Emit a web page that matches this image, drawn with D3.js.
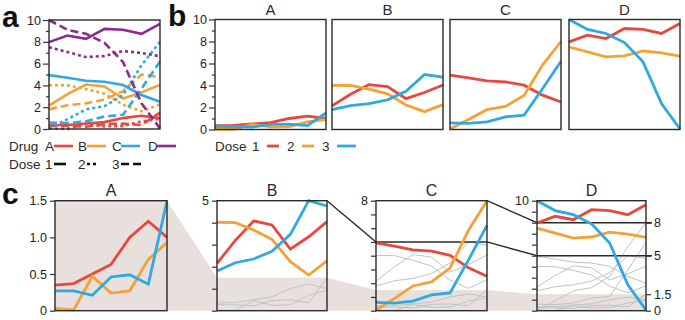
<!DOCTYPE html>
<html>
<head>
<meta charset="utf-8">
<script src="https://cdn.jsdelivr.net/npm/d3@7"></script>
<style>
  body { margin: 0; background: #fff; }
  svg { font-family: "Liberation Sans", Arial, sans-serif; }
  .tick text { font-size: 12.5px; fill: #222; }
  .tick line { stroke: #333; stroke-width: 1.2; }
</style>
</head>
<body>
<svg id="fig" width="685" height="320"></svg>
<script>
// data
var drugs = ['A', 'B', 'C', 'D'];
var doses = ['1', '2', '3'];
var timePoints = [0, 1, 2, 3, 4, 5, 6];

// one array per drug, one row per dose
var drugA = [
  [0.35, 0.37, 0.50, 0.63, 1.00, 1.22, 1.00],
  [0.03, 0.01, 0.47, 0.24, 0.27, 0.70, 0.93],
  [0.27, 0.27, 0.21, 0.46, 0.49, 0.36, 1.50]
];
var drugB = [
  [2.15, 3.20, 4.08, 3.90, 2.80, 3.36, 4.05],
  [4.02, 4.00, 3.67, 3.24, 2.23, 1.62, 2.26],
  [1.80, 2.18, 2.35, 2.70, 3.47, 5.00, 4.76]
];
var drugC = [
  [4.94, 4.70, 4.42, 4.33, 4.03, 3.12, 2.50],
  [0.05, 0.90, 1.80, 2.10, 3.10, 5.85, 8.00],
  [0.60, 0.55, 0.70, 1.15, 1.30, 3.70, 6.20]
];
var drugD = [
  [7.97, 8.58, 8.27, 9.18, 9.10, 8.73, 9.64],
  [7.50, 7.06, 6.60, 6.70, 7.15, 6.97, 6.67],
  [10.0, 9.10, 8.73, 7.90, 6.15, 2.36, 0.05]
];
var allDrugs = [drugA, drugB, drugC, drugD];

// zoom ranges for panel c
var zoomMax = [1.5, 5, 8, 10];

var drugColor = ['#e8473d', '#f4a235', '#2fa9e0', '#8c2b8e'];
var doseColor = ['#e8473d', '#f4a235', '#2fa9e0'];
var doseDash = [null, '3,3', '8,4'];
var shade = '#e7e0dd';
var ink = '#2a2a2a';

var svg = d3.select('#fig');

function lineGen(x, y) {
  return d3.line()
    .x((d, i) => x(timePoints[i]))
    .y(d => y(d));
}

function box(g, x0, x1, y0, y1) {
  g.append('rect')
    .attr('x', x0).attr('y', y1)
    .attr('width', x1 - x0).attr('height', y0 - y1)
    .attr('fill', 'none')
    .attr('stroke', ink)
    .attr('stroke-width', 1.4);
}

function letter(txt, x, y) {
  svg.append('text')
    .attr('x', x).attr('y', y)
    .attr('font-size', 30).attr('font-weight', 'bold')
    .attr('fill', '#111')
    .text(txt);
}

function cleanAxis(g) {
  g.select('.domain').remove();
}

// ---------- panel a ----------
function drawA() {
  let g = svg.append('g');
  let x = d3.scaleLinear().domain([0, 6]).range([49, 160]);
  let y = d3.scaleLinear().domain([0, 10]).range([129, 20]);
  let line = lineGen(x, y);

  allDrugs.forEach((rows, di) => {
    rows.forEach((vals, k) => {
      g.append('path')
        .datum(vals)
        .attr('d', line)
        .attr('fill', 'none')
        .attr('stroke', drugColor[di])
        .attr('stroke-width', 2.6)
        .attr('stroke-dasharray', doseDash[k]);
    });
  });
  box(g, 49, 160, 129, 20);

  g.append('g').attr('transform', 'translate(49,0)')
    .call(d3.axisLeft(y).tickValues([0, 2, 4, 6, 8, 10]).tickSize(6).tickPadding(2))
    .call(cleanAxis);
  g.append('g').attr('transform', 'translate(49,0)')
    .call(d3.axisLeft(y).tickValues([1, 3, 5, 7, 9]).tickSize(3).tickFormat(''))
    .call(cleanAxis);

  letter('a', 2, 27);

  // legend
  let lg = svg.append('g').attr('font-size', 13.5).attr('fill', ink);
  lg.append('text').attr('x', 9).attr('y', 151).text('Drug');
  let drugX = [45, 78, 112, 148];
  drugs.forEach((d, i) => {
    lg.append('text').attr('x', drugX[i]).attr('y', 151).text(d);
    lg.append('line')
      .attr('x1', drugX[i] + 9).attr('x2', drugX[i] + 28)
      .attr('y1', 146).attr('y2', 146)
      .attr('stroke', drugColor[i]).attr('stroke-width', 2.6);
  });
  lg.append('text').attr('x', 9).attr('y', 169).text('Dose');
  let doseX = [45, 78, 112];
  doses.forEach((d, i) => {
    lg.append('text').attr('x', doseX[i]).attr('y', 169).text(d);
    lg.append('line')
      .attr('x1', doseX[i] + 9).attr('x2', doseX[i] + (i == 2 ? 33 : 21))
      .attr('y1', 164).attr('y2', 164)
      .attr('stroke', '#111').attr('stroke-width', 2.6)
      .attr('stroke-dasharray', doseDash[i]);
  });
}

// ---------- panel b ----------
function drawB() {
  let g = svg.append('g');
  let left = [215, 332, 450, 569];
  let w = 111;
  let y = d3.scaleLinear().domain([0, 10]).range([129.5, 19.5]);

  allDrugs.forEach((rows, di) => {
    let x = d3.scaleLinear().domain([0, 6]).range([left[di], left[di] + w]);
    let line = lineGen(x, y);
    rows.forEach((vals, k) => {
      g.append('path')
        .datum(vals)
        .attr('d', line)
        .attr('fill', 'none')
        .attr('stroke', doseColor[k])
        .attr('stroke-width', 2.8);
    });
    box(g, left[di], left[di] + w, 129.5, 19.5);
    g.append('text')
      .attr('x', left[di] + w / 2).attr('y', 15)
      .attr('text-anchor', 'middle')
      .attr('font-size', 15).attr('fill', ink)
      .text(drugs[di]);
  });

  g.append('g').attr('transform', `translate(${left[0]},0)`)
    .call(d3.axisLeft(y).tickValues([0, 2, 4, 6, 8, 10]).tickSize(6).tickPadding(2))
    .call(cleanAxis);
  g.append('g').attr('transform', `translate(${left[0]},0)`)
    .call(d3.axisLeft(y).tickValues([1, 3, 5, 7, 9]).tickSize(3).tickFormat(''))
    .call(cleanAxis);

  letter('b', 168, 26);

  let lg = svg.append('g').attr('font-size', 13.5).attr('fill', ink);
  lg.append('text').attr('x', 215).attr('y', 151).text('Dose');
  let doseX = [252, 287, 322];
  doses.forEach((d, i) => {
    lg.append('text').attr('x', doseX[i]).attr('y', 151).text(d);
    lg.append('line')
      .attr('x1', doseX[i] + 15).attr('x2', doseX[i] + (i == 2 ? 34 : 27))
      .attr('y1', 146).attr('y2', 146)
      .attr('stroke', doseColor[i]).attr('stroke-width', 2.8);
  });
}

// ---------- panel c ----------
function drawC() {
  let g = svg.append('g');
  let left = [55, 217, 376, 537];
  let right = [167, 327, 487, 646];
  let bottom = 310.7, top = 200.7;

  let xs = drugs.map((d, i) => d3.scaleLinear().domain([0, 6]).range([left[i], right[i]]));
  let ys = zoomMax.map(m => d3.scaleLinear().domain([0, m]).range([bottom, top]));

  // shaded band for the first zoom level
  g.append('rect')
    .attr('x', left[0]).attr('y', top)
    .attr('width', right[0] - left[0]).attr('height', bottom - top)
    .attr('fill', shade);
  for (let i = 1; i < 4; i++) {
    let yPrev = ys[i - 1](zoomMax[0]);
    let yHere = ys[i](zoomMax[0]);
    g.append('path')
      .attr('d', `M${right[i - 1]},${yPrev}L${left[i]},${yHere}L${left[i]},${bottom}L${right[i - 1]},${bottom}Z`)
      .attr('fill', shade);
    g.append('rect')
      .attr('x', left[i]).attr('y', yHere)
      .attr('width', right[i] - left[i]).attr('height', bottom - yHere)
      .attr('fill', shade);
  }

  // earlier drugs in grey
  for (let i = 1; i < 4; i++) {
    let line = lineGen(xs[i], ys[i]);
    for (let j = 0; j < i; j++) {
      allDrugs[j].forEach(vals => {
        g.append('path')
          .datum(vals)
          .attr('d', line)
          .attr('fill', 'none')
          .attr('stroke', '#c2c2c2')
          .attr('stroke-width', 1);
      });
    }
  }

  // zoom level guides
  for (let i = 2; i < 4; i++) {
    for (let j = 1; j < i; j++) {
      let yHere = ys[i](zoomMax[j]);
      let yPrev = ys[i - 1](zoomMax[j]);
      let xEnd = i == 3 ? right[i] + 6 : right[i];
      g.append('line')
        .attr('x1', left[i]).attr('x2', xEnd)
        .attr('y1', yHere).attr('y2', yHere)
        .attr('stroke', ink).attr('stroke-width', 1.4);
      g.append('line')
        .attr('x1', right[i - 1]).attr('x2', left[i])
        .attr('y1', yPrev).attr('y2', yHere)
        .attr('stroke', ink).attr('stroke-width', 1.4);
    }
  }

  // this drug in colour
  allDrugs.forEach((rows, di) => {
    let line = lineGen(xs[di], ys[di]);
    rows.forEach((vals, k) => {
      g.append('path')
        .datum(vals)
        .attr('d', line)
        .attr('fill', 'none')
        .attr('stroke', doseColor[k])
        .attr('stroke-width', 2.8);
    });
    box(g, left[di], right[di], bottom, top);
    g.append('text')
      .attr('x', (left[di] + right[di]) / 2).attr('y', 196)
      .attr('text-anchor', 'middle')
      .attr('font-size', 16).attr('fill', ink)
      .text(drugs[di]);
  });

  // axes
  g.append('g').attr('transform', `translate(${left[0]},0)`)
    .call(d3.axisLeft(ys[0]).tickValues([0, 0.5, 1, 1.5]).tickSize(5).tickPadding(3)
      .tickFormat(d => d == 0 ? '0' : d3.format('.1f')(d)))
    .call(cleanAxis);
  for (let i = 1; i < 4; i++) {
    let m = zoomMax[i];
    g.append('g').attr('transform', `translate(${left[i]},0)`)
      .call(d3.axisLeft(ys[i]).tickValues(d3.range(0, m + 1)).tickSize(5).tickPadding(3)
        .tickFormat(d => d == m ? d : ''))
      .call(cleanAxis);
  }
  g.append('g').attr('transform', `translate(${right[3]},0)`)
    .call(d3.axisRight(ys[3]).tickValues([0, 1.5, 5, 8]).tickSize(5).tickPadding(3)
      .tickFormat(d => String(d)))
    .call(cleanAxis);

  letter('c', 2, 204);
}

drawA();
drawB();
drawC();
svg.selectAll('.tick text').attr('font-size', 12.5).attr('fill', ink);
</script>
</body>
</html>
